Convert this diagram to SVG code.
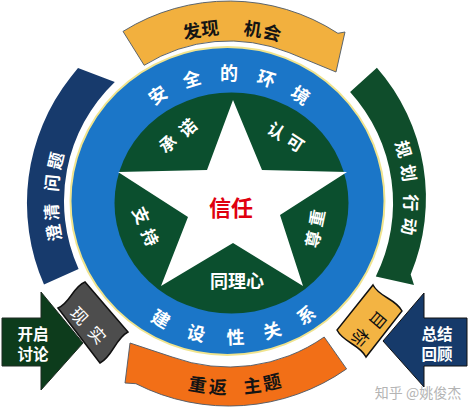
<svg xmlns="http://www.w3.org/2000/svg" width="474" height="412" viewBox="0 0 474 412">
<style>
text { font-family: "Noto Sans CJK SC", "Noto Sans", sans-serif; font-weight: bold; text-anchor: middle; dominant-baseline: central; }
.w { fill: #ffffff; }
.k { fill: #141414; }
.ring { font-size: 18px; fill: #ffffff; }
.arc { font-size: 18px; }
.side { font-size: 17px; fill: #ffffff; }
.lab { font-size: 17px; fill: #ffffff; }
.blk { font-size: 15.5px; fill: #ffffff; }
.ol { stroke: #4b5866; stroke-width: 0.9; }
</style>
<rect x="0" y="0" width="474" height="412" fill="#ffffff"/>

<g id="connectors">
  <g id="arrow-discover">
    <path class="ol" d="M 144.2 65.3 L 123.0 31.4 A 200 200 0 0 1 337.9 33.3 L 345 32 L 336 72 L 288.9 52.6 A 160 160 0 0 0 144.2 65.3 Z" fill="#f2b03e"/>
    <text class="arc k" transform="translate(191.7 30.0) rotate(-12.3)">发</text>
    <text class="arc k" transform="translate(209.8 27.0) rotate(-6.3)">现</text>
    <text class="arc k" transform="translate(253.0 27.7) rotate(7.9)">机</text>
    <text class="arc k" transform="translate(272.5 31.5) rotate(14.4)">会</text>
  </g>
  <g id="arrow-plan">
    <path d="M 350.1 91.9 L 376.9 67.8 A 198 198 0 0 1 410.7 274.4 L 414 285 L 375.8 276.4 A 165 165 0 0 0 350.1 91.9 Z" fill="#0f4d2b"/>
    <text class="side" transform="translate(404.4 148.7) rotate(73.4)">规</text>
    <text class="side" transform="translate(409.8 172.7) rotate(81.1)">划</text>
    <text class="side" transform="translate(412.0 202.9) rotate(90.6)">行</text>
    <text class="side" transform="translate(410.2 226.8) rotate(98.1)">动</text>
  </g>
  <g id="arrow-return">
    <path class="ol" d="M 324.2 337.0 L 346.6 368.9 A 205 205 0 0 1 135.9 383.7 L 125 383 L 130 343 L 172.2 357.0 A 166 166 0 0 0 324.2 337.0 Z" fill="#f26f17"/>
    <text class="arc k" transform="translate(197.8 383.4) rotate(9.7)">重</text>
    <text class="arc k" transform="translate(218.0 385.7) rotate(3.4)">返</text>
    <text class="arc k" transform="translate(252.2 384.5) rotate(-7.2)">主</text>
    <text class="arc k" transform="translate(271.6 381.0) rotate(-13.3)">题</text>
  </g>
  <g id="arrow-clarify">
    <path d="M 78.6 268.9 L 44.0 284.5 A 203 203 0 0 1 70.6 77.3 L 78 68 L 114.8 81.9 A 165 165 0 0 0 78.6 268.9 Z" fill="#173a6c"/>
    <text class="side" transform="translate(52.9 233.0) rotate(-100.3)">澄</text>
    <text class="side" transform="translate(50.4 212.2) rotate(-93.6)">清</text>
    <text class="side" transform="translate(50.9 182.9) rotate(-84.2)">问</text>
    <text class="side" transform="translate(54.7 160.4) rotate(-76.9)">题</text>
  </g>
</g>

<g id="ring">
  <ellipse cx="227.5" cy="201" rx="157" ry="154" fill="#1b76c8" stroke="#f0e48e" stroke-width="2"/>
  <text class="ring" transform="translate(156.9 94.1) rotate(-34)">安</text>
  <text class="ring" transform="translate(191.3 77.6) rotate(-17)">全</text>
  <text class="ring" transform="translate(229 72) rotate(0)">的</text>
  <text class="ring" transform="translate(266.7 77.6) rotate(17)">环</text>
  <text class="ring" transform="translate(301.1 94.1) rotate(34)">境</text>
  <text class="ring" transform="translate(161.5 317.9) rotate(30)">建</text>
  <text class="ring" transform="translate(196.3 332.0) rotate(14)">设</text>
  <text class="ring" transform="translate(235.5 335.9) rotate(-2)">性</text>
  <text class="ring" transform="translate(271.7 329.4) rotate(-18)">关</text>
  <text class="ring" transform="translate(305.5 314.0) rotate(-34)">系</text>
</g>

<g id="disc">
  <ellipse cx="231.5" cy="203" rx="117" ry="110.5" fill="#0b4f2e"/>
</g>

<g id="star">
  <polygon points="233,100 262,170 347,172 280,215 303,286 233,243 161,286 188,217 118,172 207,170" fill="#ffffff"/>
  <text x="231" y="206" style="font-size:22px; fill:#e0000f">信任</text>
</g>

<g id="labels">
  <text class="lab" transform="translate(167 143) rotate(-42)">承</text>
  <text class="lab" transform="translate(187 127) rotate(-42)">诺</text>
  <text class="lab" transform="translate(277 130) rotate(33)">认</text>
  <text class="lab" transform="translate(296 142) rotate(33)">可</text>
  <text class="lab" transform="translate(142 215) rotate(66)">支</text>
  <text class="lab" transform="translate(151 237) rotate(66)">持</text>
  <text class="lab" transform="translate(312 239) rotate(-78)">尊</text>
  <text class="lab" transform="translate(316 218) rotate(-78)">重</text>
  <text class="lab" x="237" y="280" style="font-size:18px">同理心</text>
</g>

<g id="open-discussion">
  <polygon points="2,318 41,318 41,292 83,343 41,390 41,366 2,366" fill="#0d3c1c" stroke="#1e2a22" stroke-width="1"/>
  <text class="blk" x="33" y="333">开启</text>
  <text class="blk" x="33" y="353">讨论</text>
</g>

<g id="reality">
  <path d="M 58 308 C 70.5 302.9 72.5 287.1 85 282 L 128 332 C 115.2 338.7 112.8 356.3 100 363 Z" fill="#4d4d4d" stroke="#111" stroke-width="1.5"/>
  <text style="font-size:17px; fill:#fff; font-weight:normal" transform="translate(80 315) rotate(47)">现</text>
  <text style="font-size:17px; fill:#fff; font-weight:normal" transform="translate(98 334) rotate(47)">实</text>
</g>

<g id="summary">
  <polygon points="467,318 424,318 424,293 383,341 424,387 424,366 467,366" fill="#163a6a" stroke="#111" stroke-width="1"/>
  <text class="blk" x="437" y="333">总结</text>
  <text class="blk" x="437" y="353">回顾</text>
</g>

<g id="goal">
  <path d="M 373 285 C 379.3 297.4 395.7 298.6 402 311 L 366 357 C 359.7 344.3 343.3 342.7 337 330 Z" fill="#f3b443" stroke="#111" stroke-width="1.5"/>
  <text style="font-size:17px; fill:#111; font-weight:normal" transform="translate(379 321) rotate(130)">目</text>
  <text style="font-size:17px; fill:#111; font-weight:normal" transform="translate(361 338) rotate(130)">标</text>
</g>

<g id="watermark">
  <text x="418" y="392" style="font-size:14px; fill:#b4b4b4; font-weight:normal">知乎 @姚俊杰</text>
</g>
</svg>
